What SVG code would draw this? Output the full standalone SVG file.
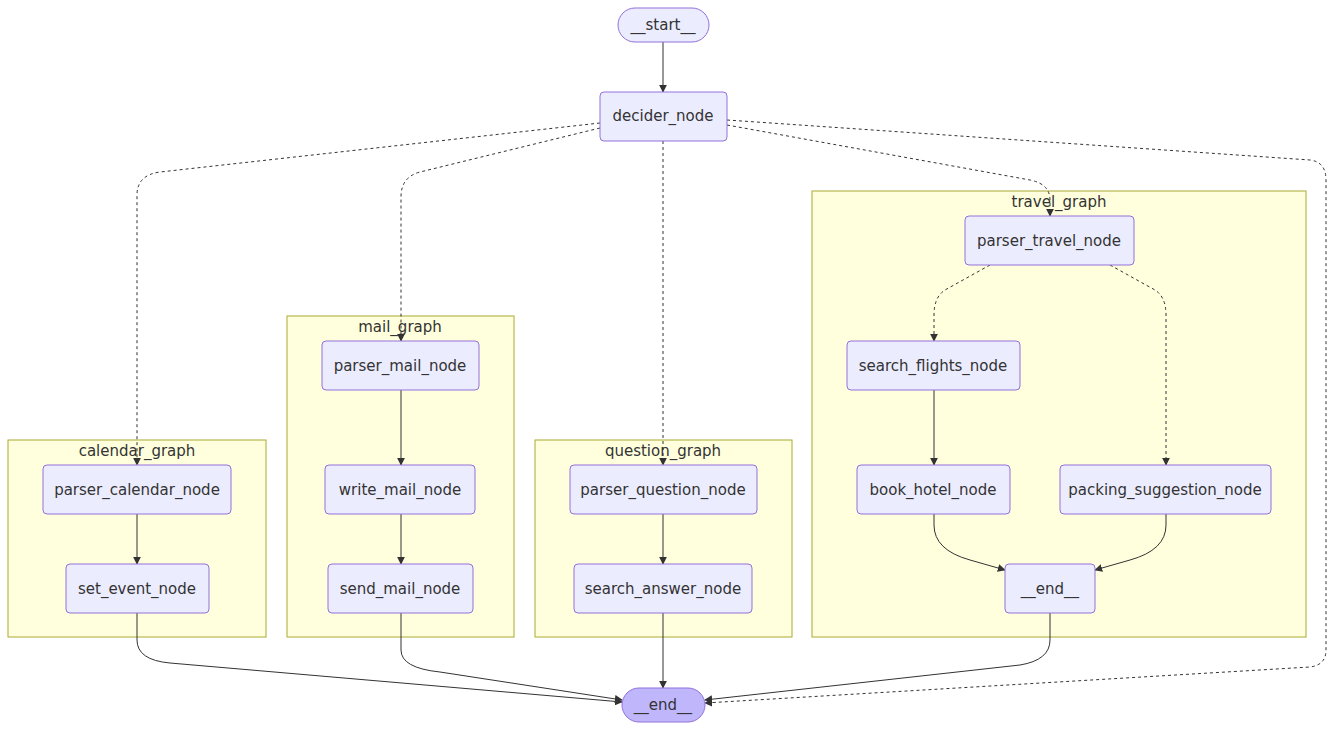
<svg xmlns="http://www.w3.org/2000/svg" width="1334" height="730" viewBox="0 0 1334 730">
<style>
.n rect{fill:#ECECFF;stroke:#9370DB;stroke-width:1}
.c rect{fill:#FFFFDE;stroke:#AAAA33;stroke-width:1}
text{font-family:"DejaVu Sans","Liberation Sans",sans-serif;font-size:15px;fill:#333;text-anchor:middle;dominant-baseline:central}
.e path{fill:none;stroke:#333;stroke-width:1;marker-end:url(#a)}
.e path.d{stroke-dasharray:3 3}
</style>
<defs><marker id="a" viewBox="0 0 10 10" refX="9" refY="5" markerWidth="8" markerHeight="8" orient="auto-start-reverse" markerUnits="userSpaceOnUse"><path d="M0,0 L10,5 L0,10 z" fill="#333"/></marker></defs>
<rect width="1334" height="730" fill="#fff"/>
<g id="calendar_graph" class="c"><rect x="8" y="440" width="258" height="197"/><text x="137" y="451">calendar_graph</text></g>
<g id="mail_graph" class="c"><rect x="287" y="316" width="227" height="321"/><text x="400" y="327">mail_graph</text></g>
<g id="question_graph" class="c"><rect x="535" y="440" width="257" height="197"/><text x="663" y="451">question_graph</text></g>
<g id="travel_graph" class="c"><rect x="812" y="191" width="494" height="446"/><text x="1059" y="202">travel_graph</text></g>
<g class="e">
<path d="M663,42 L663,92"/>
<path class="d" d="M600,123 L160,172 Q137,175 137,195 L137,465"/>
<path class="d" d="M600,128 L420,172 Q401,177 401,197 L401,341"/>
<path class="d" d="M663,141 L663,465"/>
<path class="d" d="M727,125 L1030,180 Q1050,184 1050,200 L1050,216"/>
<path class="d" d="M727,120 L1310,160 Q1326,162 1326,180 L1326,650 Q1326,665 1310,667 L705,703"/>
<path class="d" d="M990,265 L945,290 Q934,297 934,315 L934,341"/>
<path class="d" d="M1110,265 L1155,290 Q1166,297 1166,315 L1166,465"/>
<path d="M934,390 L934,465"/>
<path d="M934,514 L934,525 Q934,550 970,560 L1005,570"/>
<path d="M1166,514 L1166,525 Q1166,550 1130,560 L1095,570"/>
<path d="M1050,613 L1050,640 Q1050,660 1020,665 L705,700"/>
<path d="M137,613 L137,640 Q137,660 170,663 L622,702"/>
<path d="M401,613 L401,650 Q401,668 440,672 L622,700"/>
<path d="M663,613 L663,688"/>
<path d="M137,514 L137,564"/>
<path d="M401,390 L401,465"/>
<path d="M401,514 L401,564"/>
<path d="M663,514 L663,564"/>
</g>
<g id="start" class="n"><rect x="618" y="8" width="91" height="34" rx="17"/><text x="663" y="25">__start__</text></g>
<g id="decider_node" class="n"><rect x="600" y="92" width="127" height="49" rx="4"/><text x="663" y="116">decider_node</text></g>
<g id="parser_calendar_node" class="n"><rect x="43" y="465" width="188" height="49" rx="4"/><text x="137" y="490">parser_calendar_node</text></g>
<g id="set_event_node" class="n"><rect x="66" y="564" width="143" height="49" rx="4"/><text x="137" y="589">set_event_node</text></g>
<g id="parser_mail_node" class="n"><rect x="322" y="341" width="157" height="49" rx="4"/><text x="400" y="366">parser_mail_node</text></g>
<g id="write_mail_node" class="n"><rect x="325" y="465" width="150" height="49" rx="4"/><text x="400" y="490">write_mail_node</text></g>
<g id="send_mail_node" class="n"><rect x="328" y="564" width="145" height="49" rx="4"/><text x="400" y="589">send_mail_node</text></g>
<g id="parser_question_node" class="n"><rect x="570" y="465" width="187" height="49" rx="4"/><text x="663" y="490">parser_question_node</text></g>
<g id="search_answer_node" class="n"><rect x="574" y="564" width="178" height="49" rx="4"/><text x="663" y="589">search_answer_node</text></g>
<g id="parser_travel_node" class="n"><rect x="965" y="216" width="169" height="49" rx="4"/><text x="1049" y="241">parser_travel_node</text></g>
<g id="search_flights_node" class="n"><rect x="847" y="341" width="173" height="49" rx="4"/><text x="933" y="366">search_flights_node</text></g>
<g id="book_hotel_node" class="n"><rect x="857" y="465" width="153" height="49" rx="4"/><text x="933" y="490">book_hotel_node</text></g>
<g id="packing_suggestion_node" class="n"><rect x="1060" y="465" width="211" height="49" rx="4"/><text x="1165" y="490">packing_suggestion_node</text></g>
<g id="travel_end" class="n"><rect x="1005" y="564" width="90" height="49" rx="4"/><text x="1050" y="589">__end__</text></g>
<g id="end" class="n"><rect x="622" y="688" width="83" height="34" rx="17" style="fill:#BFB6FC"/><text x="663" y="705">__end__</text></g>
</svg>
